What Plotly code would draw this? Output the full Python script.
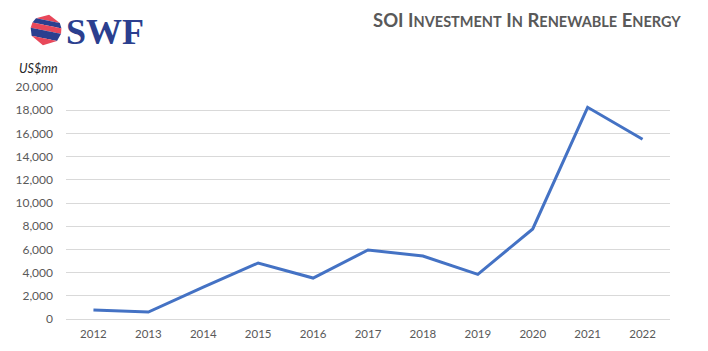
import numpy as np
import plotly.graph_objects as go

years = ["2012", "2013", "2014", "2015", "2016", "2017", "2018", "2019", "2020", "2021", "2022"]
investment = [780, 600, 2750, 4830, 3530, 5950, 5430, 3850, 7760, 18250, 15500]
y_ticks = list(range(0, 20001, 2000))
y_tick_labels = ["{:,}".format(v) for v in y_ticks]

W, H = 708, 351
L, R, T, B = 66, 38, 87, 32
pw, ph = W - L - R, H - T - B

def px(x):
    return (x - L) / pw

def py(y):
    return (H - B - y) / ph

fig = go.Figure()
fig.add_trace(go.Scatter(
    x=years, y=investment, mode="lines",
    line=dict(color="#4472C4", width=3), hoverinfo="x+y"))

# Logo globe: bands clipped to a circle
cx, cy, r = 46, 30, 15.5
bands = [(-1.0, -0.62, "#E8485A"), (-0.62, -0.3, "#2B3F8F"), (-0.3, 0.05, "#E8485A"),
         (0.05, 0.55, "#2B3F8F"), (0.55, 1.0, "#E8485A")]
shapes = []
tilt = 0.2
for a, b, col in bands:
    pts = []
    ts = np.linspace(0, 1, 40)
    for (v, order) in ((a, 1), (b, -1)):
        xs = np.sqrt(max(1 - v * v, 0))
        line_pts = [(-xs + 2 * xs * t, v) for t in ts]
        if order == -1:
            line_pts = line_pts[::-1]
        pts.extend(line_pts)
    path = ""
    for i, (u, v) in enumerate(pts):
        xr = u * np.cos(tilt) - v * np.sin(tilt)
        yr = u * np.sin(tilt) + v * np.cos(tilt)
        X = cx + r * xr
        Y = cy + r * yr
        path += ("M" if i == 0 else "L") + f"{px(X):.4f},{py(Y):.4f} "
    path += "Z"
    shapes.append(dict(type="path", xref="paper", yref="paper", path=path,
                       fillcolor=col, line=dict(width=0), layer="above"))

def smallcaps(text, small=14.5):
    out = []
    for word in text.split(" "):
        if word.isupper():
            out.append(word)
        else:
            out.append(word[0] + f"<span style='font-size:{small}px'>" + word[1:].upper() + "</span>")
    return " ".join(out)

fig.update_layout(
    width=W, height=H,
    margin=dict(l=L, r=R, t=T, b=B),
    paper_bgcolor="white", plot_bgcolor="white",
    showlegend=False,
    font=dict(family="Lato, Calibri, sans-serif", color="#595959", size=12),
    xaxis=dict(type="category", range=[-0.5, 10.5], showgrid=False, showline=False,
               zeroline=False, ticks="", ticklabelstandoff=6,
               tickfont=dict(size=11.5, color="#595959"), fixedrange=True),
    yaxis=dict(range=[0, 20000], tickvals=y_ticks, ticktext=y_tick_labels,
               showgrid=True, gridcolor="#D9D9D9", gridwidth=1, zeroline=True,
               zerolinecolor="#D9D9D9", zerolinewidth=1, showline=False, ticks="",
               tickfont=dict(size=12, color="#595959"), ticklabelstandoff=12, fixedrange=True),
    shapes=shapes,
    annotations=[
        dict(text="<i>US$mn</i>", xref="paper", yref="paper", x=px(17), y=py(69),
             xanchor="left", yanchor="middle", showarrow=False,
             font=dict(size=12.5, color="#262626", family="Lato, Calibri, sans-serif")),
        dict(text="<b>" + smallcaps("SOI Investment In Renewable Energy") + "</b>",
             xref="paper", yref="paper", x=px(683), y=py(20), xanchor="right", yanchor="middle",
             showarrow=False, font=dict(size=18.5, color="#595959", family="Lato, sans-serif")),
        dict(text="<b>SWF</b>", xref="paper", yref="paper", x=px(64), y=py(32),
             xanchor="left", yanchor="middle", showarrow=False,
             font=dict(size=36, color="#2B3F8F", family="Liberation Serif, Times New Roman, serif")),
    ],
)

fig.write_html("out.html")
